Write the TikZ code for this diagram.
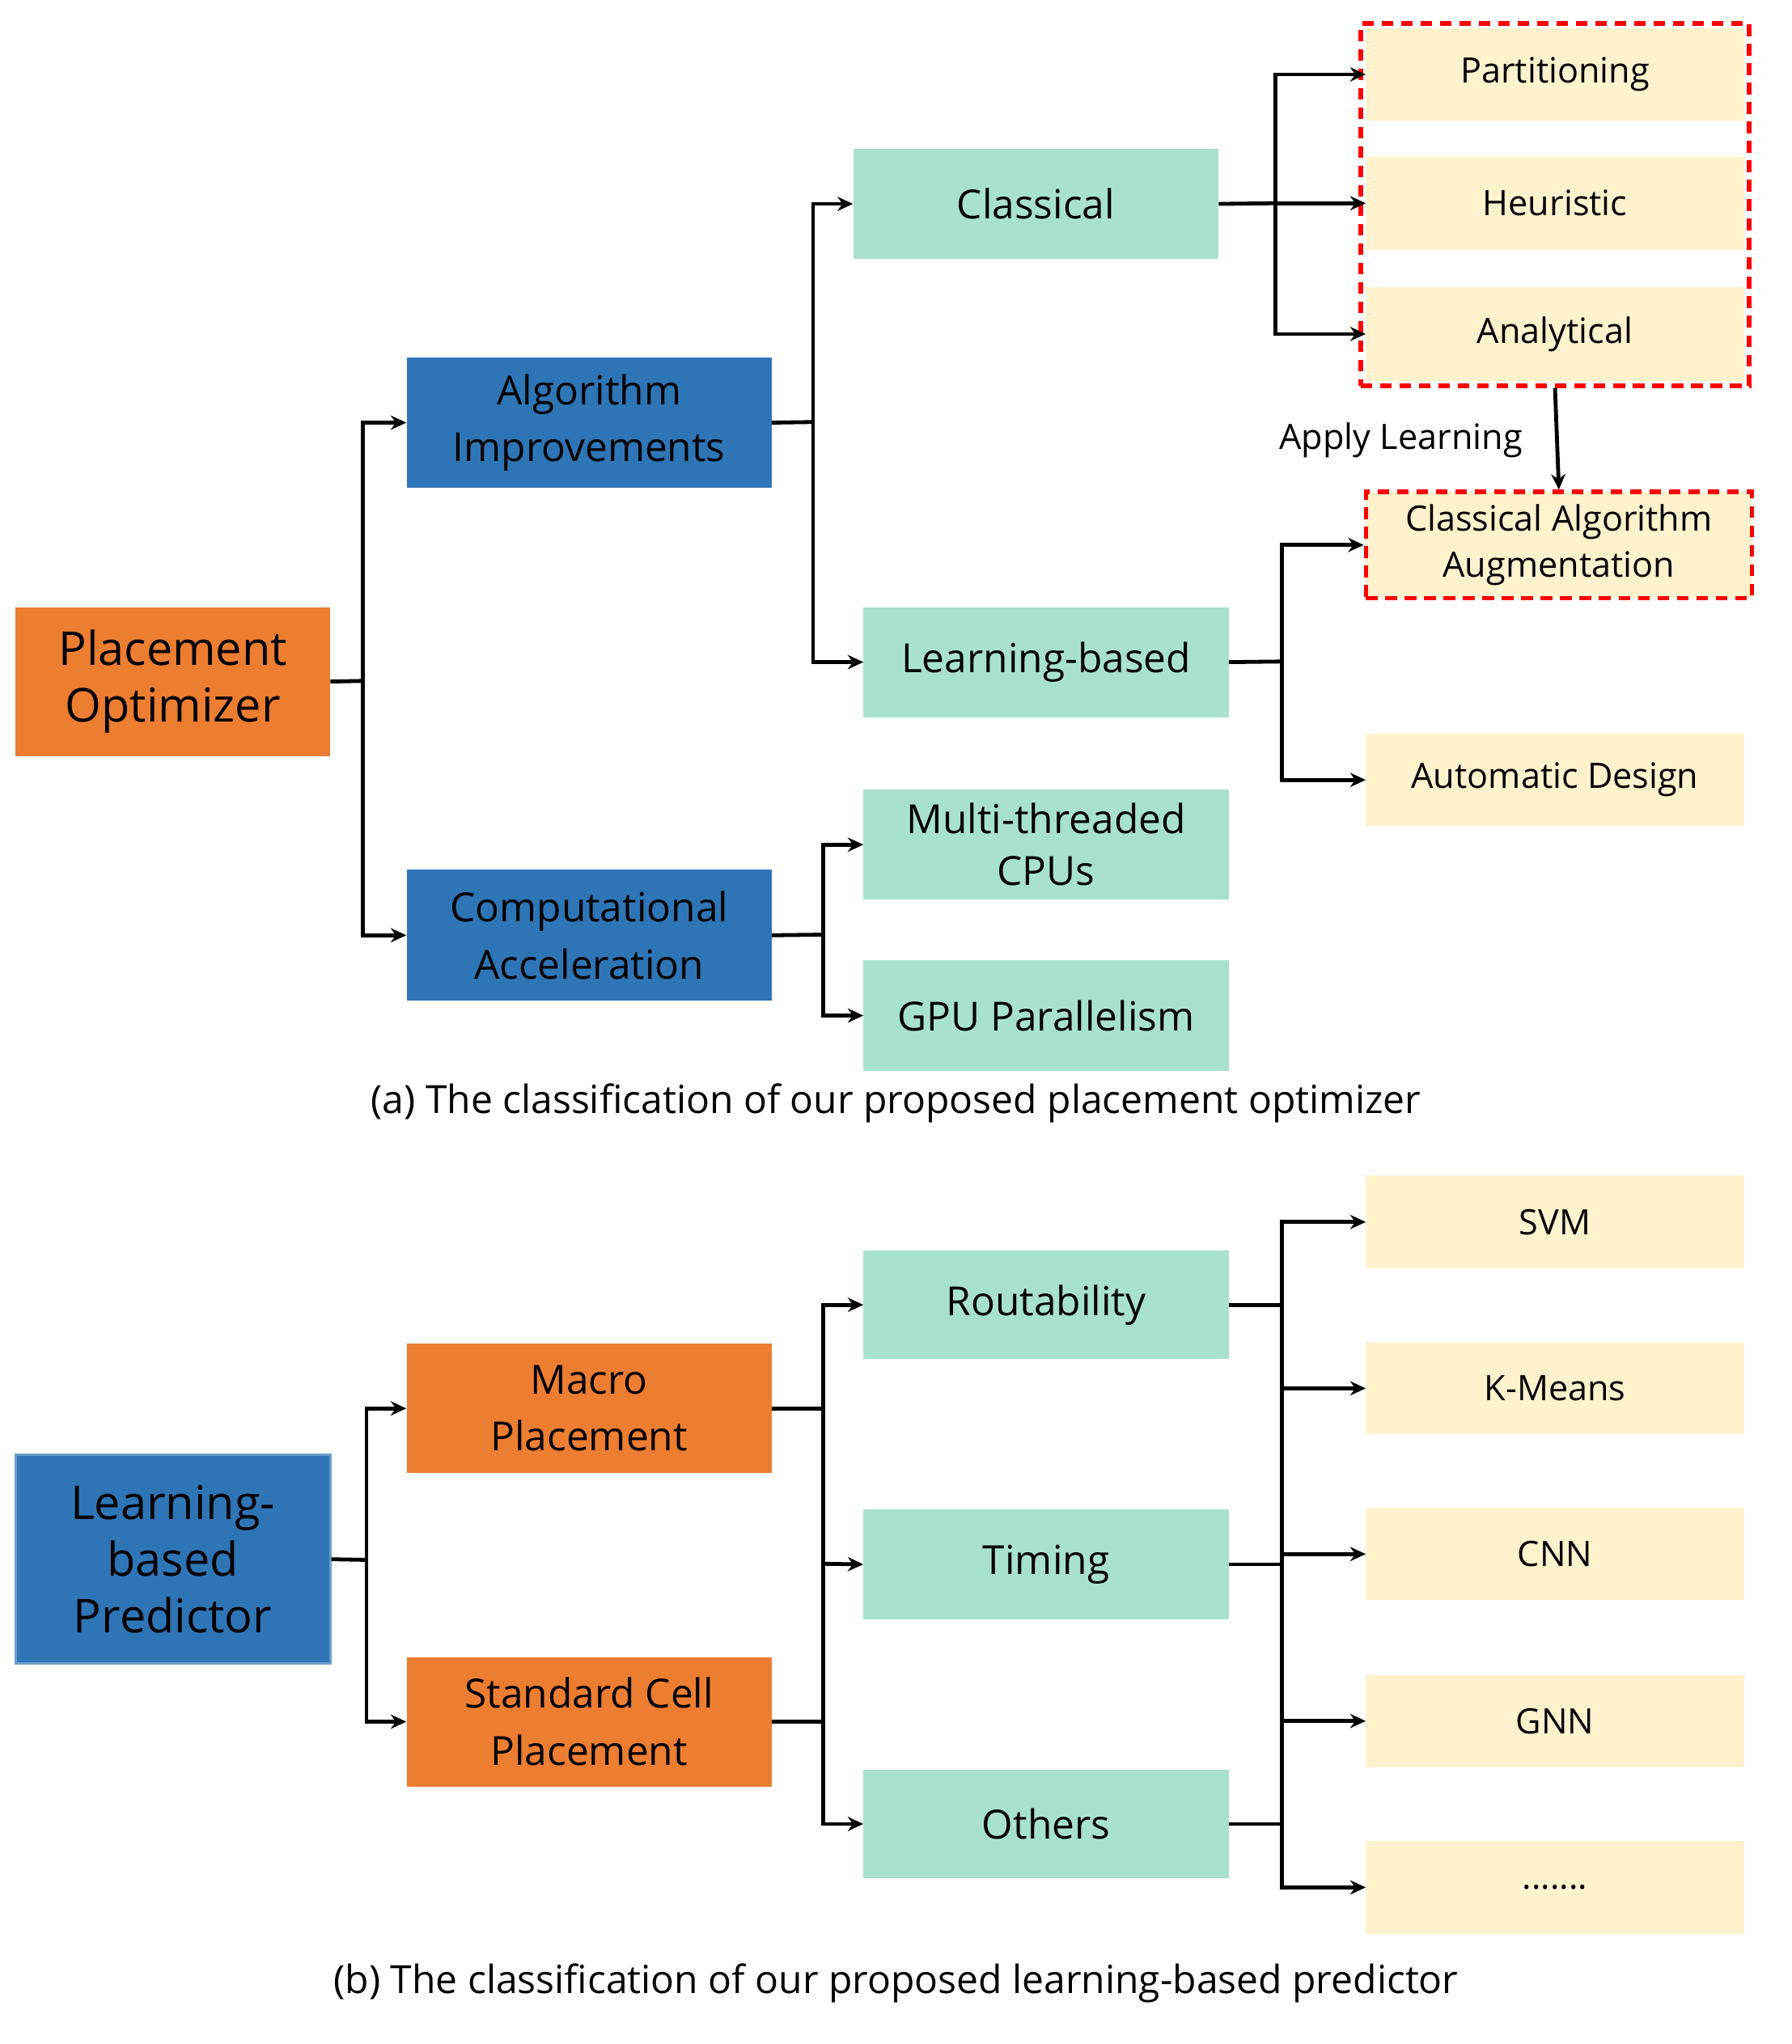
\documentclass[tikz,border=0pt]{standalone}
\usepackage{fontspec}
\setmainfont{Open Sans}
\usetikzlibrary{arrows.meta}
\definecolor{org}{HTML}{ED7D31}
\definecolor{blu}{HTML}{2E75B6}
\definecolor{grn}{HTML}{A8E2CF}
\definecolor{yel}{HTML}{FFF2CC}
\begin{document}
\begin{tikzpicture}[x=1pt,y=-1pt,
 box/.style={draw=none,inner sep=0pt,align=center},
 lv1/.style={box,fill=org,font=\fontsize{36}{44}\selectfont},
 lv2/.style={box,font=\fontsize{31}{44}\selectfont},
 lv3/.style={box,fill=grn,font=\fontsize{31}{40}\selectfont},
 lv4/.style={box,fill=yel,font=\fontsize{27}{36}\selectfont},
 ln/.style={line width=3pt},
 ar/.style={line width=3pt,-{Stealth[length=12pt,width=11pt]}},
 captxt/.style={font=\fontsize{30}{36}\selectfont}]
\useasboundingbox (0,0) rectangle (1384,1579);
\def\bx#1#2#3#4#5#6#7{\node[#2,minimum width=#5-#3,minimum height=#6-#4] (#1) at ({(#3+#5)/2},{(#4+#6)/2}) {#7};}
% part a
\bx{po}{lv1}{12}{469}{255}{584}{Placement\\Optimizer}
\bx{ai}{lv2,fill=blu}{314}{276}{596}{377}{Algorithm\\Improvements}
\bx{ca}{lv2,fill=blu}{314}{672}{596}{773}{Computational\\Acceleration}
\bx{cl}{lv3}{659}{115}{941}{200}{Classical}
\bx{lb}{lv3}{667}{469}{949}{554}{Learning-based}
\bx{mt}{lv3}{667}{610}{949}{695}{Multi-threaded\\CPUs}
\bx{gp}{lv3}{667}{742}{949}{827}{GPU Parallelism}
\bx{pa}{lv4}{1055}{22}{1347}{93}{Partitioning}
\bx{he}{lv4}{1055}{121}{1347}{193}{Heuristic}
\bx{an}{lv4}{1055}{222}{1347}{294}{Analytical}
\bx{aug}{lv4,draw=red,line width=3.5pt,dash pattern=on 9pt off 6pt}{1055}{380}{1353}{462}{Classical Algorithm\\Augmentation}
\bx{ad}{lv4}{1055}{567}{1347}{638}{Automatic Design}
\node[draw=red,line width=3.5pt,dash pattern=on 9pt off 6pt,inner sep=0pt,minimum width=300,minimum height=280] (grp) at (1201,158) {};
\node[font=\fontsize{27}{32}\selectfont] (al) at (1082,340) {Apply Learning};
\draw[ar] (grp.south) -- (aug.north);
\node[captxt] (capa) at (692,852) {(a) The classification of our proposed placement optimizer};
\coordinate (j1) at (280,526);
\draw[ln] (po.east) -- (j1);
\draw[ar] (j1) |- (ai.west);
\draw[ar] (j1) |- (ca.west);
\coordinate (j2) at (628,326);
\draw[ln] (ai.east) -- (j2);
\draw[ar] (j2) |- (cl.west);
\draw[ar] (j2) |- (lb.west);
\coordinate (j3) at (985,157);
\draw[ln] (cl.east) -- (j3);
\draw[ar] (j3) |- (pa.west);
\draw[ar] (j3) -- (he.west);
\draw[ar] (j3) |- (an.west);
\coordinate (j4) at (990,511);
\draw[ln] (lb.east) -- (j4);
\draw[ar] (j4) |- (aug.west);
\draw[ar] (j4) |- (ad.west);
\coordinate (j5) at (636,722);
\draw[ln] (ca.east) -- (j5);
\draw[ar] (j5) |- (mt.west);
\draw[ar] (j5) |- (gp.west);
% part b
\bx{lp}{lv1,fill=blu,draw=blu!70!white,line width=2pt}{12}{1124}{255}{1285}{Learning-\\based\\Predictor}
\bx{mp}{lv2,fill=org}{314}{1038}{596}{1138}{Macro\\Placement}
\bx{sp}{lv2,fill=org}{314}{1280}{596}{1380}{Standard Cell\\Placement}
\bx{ro}{lv3}{667}{966}{949}{1050}{Routability}
\bx{ti}{lv3}{667}{1166}{949}{1251}{Timing}
\bx{ot}{lv3}{667}{1367}{949}{1451}{Others}
\bx{svm}{lv4}{1055}{908}{1347}{980}{SVM}
\bx{km}{lv4}{1055}{1037}{1347}{1108}{K-Means}
\bx{cnn}{lv4}{1055}{1165}{1347}{1236}{CNN}
\bx{gnn}{lv4}{1055}{1294}{1347}{1365}{GNN}
\bx{dots}{lv4}{1055}{1422}{1347}{1494}{.......}
\node[captxt] (capb) at (692,1532) {(b) The classification of our proposed learning-based predictor};
\coordinate (k1) at (283,1205);
\draw[ln] (lp.east) -- (k1);
\draw[ar] (k1) |- (mp.west);
\draw[ar] (k1) |- (sp.west);
\coordinate (k2) at (636,1208);
\draw[ln] (mp.east) -| (k2);
\draw[ln] (sp.east) -| (k2);
\draw[ar] (k2) |- (ro.west);
\draw[ar] (k2) -- (ti.west);
\draw[ar] (k2) |- (ot.west);
\coordinate (k3) at (990,1200);
\draw[ln] (ro.east) -| (k3);
\draw[ln] (ti.east) -| (k3);
\draw[ln] (ot.east) -| (k3);
\foreach \t in {svm,km,cnn,gnn,dots} \draw[ar] (k3) |- (\t.west);
\end{tikzpicture}
\end{document}
